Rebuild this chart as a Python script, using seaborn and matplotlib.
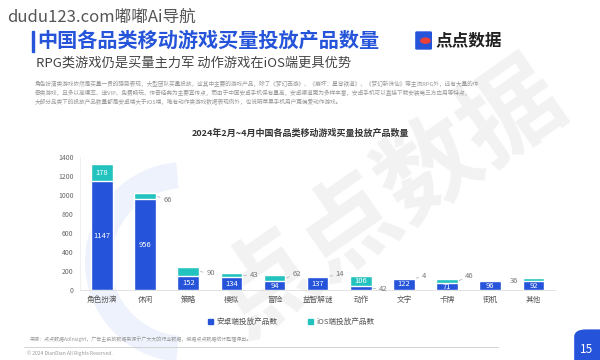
import matplotlib
matplotlib.use("Agg")
import matplotlib.pyplot as plt
import matplotlib.patches as mpatches
import numpy as np
import pandas as pd
import seaborn as sns

categories = ["角色扮演", "休闲", "策略", "模拟", "冒险", "益智解谜", "动作", "文字", "卡牌", "街机", "其他"]
android = [1147, 956, 152, 134, 94, 137, 42, 122, 71, 96, 92]
ios = [178, 66, 90, 43, 62, 14, 106, 4, 46, 0, 36]

BLUE = "#2553d9"
TEAL = "#22c3bf"

sns.set_theme(style="white")
plt.rcParams["font.family"] = ["Noto Sans CJK SC", "DejaVu Sans"]

df = pd.DataFrame({"品类": categories, "安卓": android, "iOS": ios})
df["合计"] = df["安卓"] + df["iOS"]

fig = plt.figure(figsize=(6, 3.6), dpi=100)
fig.patch.set_facecolor("white")

# background layer in pixel coords for the faint watermarks
bg = fig.add_axes([0, 0, 1, 1], zorder=-1)
bg.set_xlim(0, 600)
bg.set_ylim(360, 0)
bg.axis("off")
bg.add_patch(mpatches.Wedge((185, 262), 100, 95, 265, width=26,
                            facecolor="#edf2fc", edgecolor="none"))
bg.text(390, 200, "点点数据", fontsize=72, color="#f2f2f2", rotation=35,
        ha="center", va="center", weight="bold")

ax = fig.add_axes([0.134, 0.194, 0.791, 0.37])
ax.set_facecolor("none")
sns.barplot(data=df, x="品类", y="合计", color=TEAL, width=0.5, saturation=1, ax=ax)
sns.barplot(data=df, x="品类", y="安卓", color=BLUE, width=0.5, saturation=1, ax=ax)
ax.set_ylim(0, 1400)
ax.set_xlim(-0.5, len(categories) - 0.5)
ax.set_yticks(range(0, 1401, 200))
ax.set_xlabel("")
ax.set_ylabel("")
ax.tick_params(axis="y", labelsize=5, colors="#666666", length=0, pad=5)
ax.tick_params(axis="x", labelsize=5.5, colors="#555555", length=0, pad=4)
for s in ["top", "right"]:
    ax.spines[s].set_visible(False)
ax.spines["left"].set_color("#eeeeee")
ax.spines["left"].set_linewidth(0.6)
ax.spines["bottom"].set_color("#dddddd")
ax.spines["bottom"].set_linewidth(0.6)

# labels (leader offsets in data units)
outside_ios = {1: -40, 2: -20, 3: 0, 4: 45, 5: 25, 7: 20, 8: 60, 10: -10}
for i, (a, b) in enumerate(zip(android, ios)):
    if a >= 60:
        ax.text(i, a / 2, str(a), ha="center", va="center", color="white", fontsize=5.5)
    else:
        ax.annotate(str(a), xy=(i + 0.25, a / 2), xytext=(i + 0.42, a / 2 - 10),
                    fontsize=5.5, color="#777777", va="center",
                    arrowprops=dict(arrowstyle="-", color="#aaaaaa", lw=0.5,
                                    shrinkA=0, shrinkB=1))
    if b == 0:
        continue
    if b >= 100:
        ax.text(i, a + b / 2, str(b), ha="center", va="center", color="white", fontsize=5.5)
    elif i == 10:
        ax.text(i - 0.36, a + b / 2 + outside_ios[i], str(b), ha="right", fontsize=5.5,
                color="#777777", va="center")
    else:
        ax.annotate(str(b), xy=(i + 0.25, a + b / 2), xytext=(i + 0.42, a + b / 2 + outside_ios[i]),
                    fontsize=5.5, color="#777777", va="center",
                    arrowprops=dict(arrowstyle="-", color="#aaaaaa", lw=0.5,
                                    shrinkA=0, shrinkB=1))

# legend
handles = [mpatches.Patch(color=BLUE, label="安卓端投放产品数"),
           mpatches.Patch(color=TEAL, label="iOS端投放产品数")]
fig.legend(handles=handles, loc="center", bbox_to_anchor=(0.485, 0.105), ncol=2,
           frameon=False, fontsize=5.5, handlelength=0.7, handleheight=0.7,
           columnspacing=4, handletextpad=0.4, labelcolor="#555555")

# chart title
fig.text(0.5, 0.63, "2024年2月~4月中国各品类移动游戏买量投放产品数量", ha="center", va="center",
         fontsize=6.5, weight="bold", color="#333333")

# header
fig.patches.append(mpatches.Rectangle((0.053, 0.855), 0.004, 0.06, transform=fig.transFigure,
                                      color=BLUE, zorder=3))
fig.text(0.062, 0.887, "中国各品类移动游戏买量投放产品数量", fontsize=14.5, weight="bold",
         color=BLUE, va="center")
fig.text(0.012, 0.953, "dudu123.com嘟嘟Ai导航", fontsize=12, color="#555555", va="center")
fig.text(0.06, 0.825, "RPG类游戏仍是买量主力军 动作游戏在iOS端更具优势", fontsize=9.5,
         color="#444444", va="center", weight="light")
para = ["角色扮演类游戏依然是买量一贯的强势表现，大型团队买量投放，这其中主要的游戏产品，除了《梦幻西游》、《崩坏：星穹铁道》、《梦幻新诛仙》等主流RPG外，还有大量的传",
        "奇类游戏，且多以高爆率、送VIP、免费畅玩、传奇经典为主要宣传点，而由于中国安卓手机保有量高，安卓渠道更为多样丰富，安卓手机可以直接下载安装第三方应用等特点，",
        "大部分品类下的投放产品数量都是安卓端大于iOS端，唯有动作类游戏数据表现例外，也说明苹果手机用户更偏爱动作游戏。"]
for k, line in enumerate(para):
    fig.text(0.058, 0.768 - k * 0.025, line, fontsize=4.1, color="#999999", va="center")

# logo
fig.patches.append(mpatches.FancyBboxPatch((0.695, 0.865), 0.022, 0.045, boxstyle="round,pad=0.003",
                                           transform=fig.transFigure, facecolor=BLUE,
                                           edgecolor="none"))
fig.patches.append(mpatches.Circle((0.709, 0.887), 0.009, transform=fig.transFigure,
                                   facecolor="#e8403a", edgecolor="none"))
fig.text(0.725, 0.887, "点点数据", fontsize=12, weight="bold", color="#222222", va="center")

# footer
fig.text(0.05, 0.058, "来源：点点数据AdInsight，广告主投放数据来源于广大大的行业数据，根据点点数据统计整理得出。",
         fontsize=3.6, color="#999999", va="center")
fig.add_artist(plt.Line2D([0.04, 0.83], [0.036, 0.036], transform=fig.transFigure,
                          color="#cccccc", lw=0.6))
fig.text(0.045, 0.018, "© 2024 DianDian All Rights Reserved.", fontsize=3.6, color="#999999",
         va="center")
fig.patches.append(mpatches.FancyBboxPatch((0.957, -0.05), 0.07, 0.135,
                                           boxstyle="round,pad=0.0,rounding_size=0.02",
                                           transform=fig.transFigure, facecolor=BLUE,
                                           edgecolor="none"))
fig.text(0.978, 0.03, "15", fontsize=8.5, color="white", style="italic", va="center", ha="center")

fig.savefig("out.png", dpi=100)
